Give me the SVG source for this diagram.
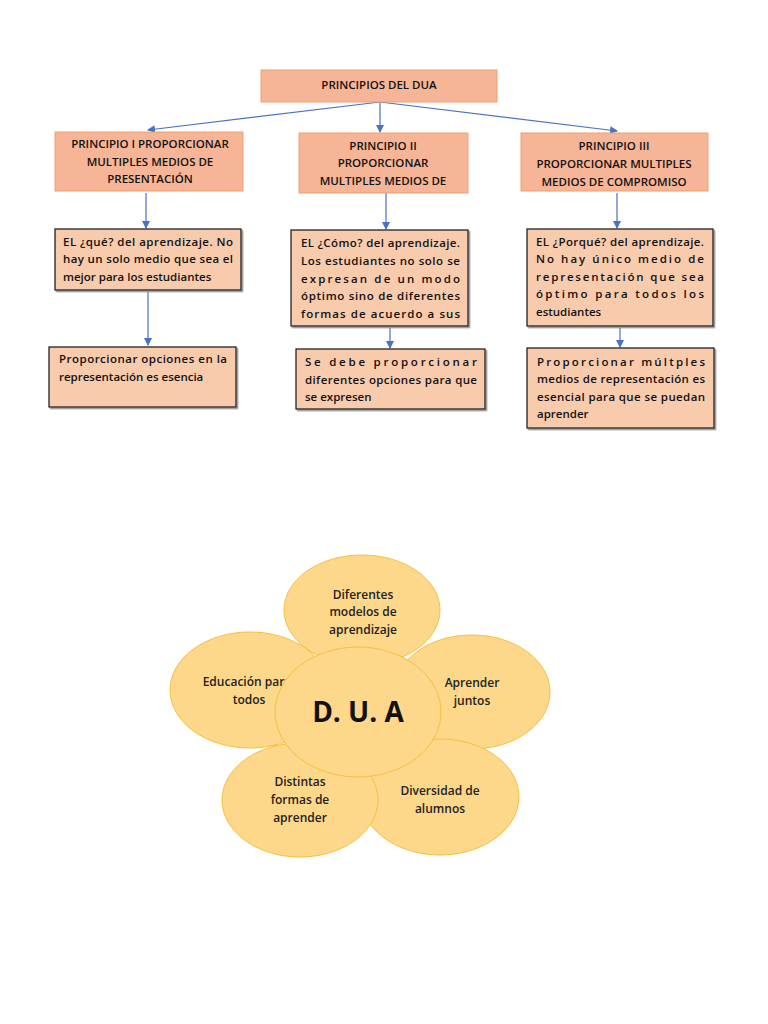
<svg xmlns="http://www.w3.org/2000/svg" width="768" height="1024" viewBox="0 0 768 1024">
<style>
.h{fill:#f7b597;stroke:#f0a070;stroke-width:1}
.b{fill:#f8cbad;stroke:#111;stroke-width:1.2;filter:url(#sh)}
.t{font-family:"Open Sans","Liberation Sans",sans-serif;font-size:11.5px;font-weight:600;fill:#111}
.c{text-anchor:middle}
.e{fill:#fdd88a;stroke:#f5c040;stroke-width:1}
.et{font-family:"Open Sans","Liberation Sans",sans-serif;font-size:12px;font-weight:600;fill:#222;text-anchor:middle}
.l{stroke:#4a72c4;stroke-width:1.2;fill:none;marker-end:url(#a)}
</style>
<defs>
<marker id="a" markerWidth="8" markerHeight="8" refX="7" refY="4" orient="auto" markerUnits="userSpaceOnUse"><path d="M0,0L8,4L0,8z" fill="#4a72c4"/></marker>
<filter id="sh"><feDropShadow dx="1.5" dy="1.5" stdDeviation="0.6" flood-color="#888"/></filter>
</defs>
<rect width="768" height="1024" fill="#fff"/>
<g id="connectors">
<path class="l" d="M380,102L148,130"/>
<path class="l" d="M380,102L380,132"/>
<path class="l" d="M380,102L617,131"/>
<path class="l" d="M146,193L146,228"/>
<path class="l" d="M386,193L386,229"/>
<path class="l" d="M617,193L617,228"/>
<path class="l" d="M148,292L148,345"/>
<path class="l" d="M390,328L390,348"/>
<path class="l" d="M620,328L620,347"/>
</g>
<g id="title"><rect class="h" x="261" y="70" width="236" height="32"/><text class="t c" x="379" y="89">PRINCIPIOS DEL DUA</text></g>
<g id="p1"><rect class="h" x="55" y="132" width="188" height="59"/><text class="t c" x="150" y="148">PRINCIPIO I PROPORCIONAR</text><text class="t c" x="150" y="166">MULTIPLES MEDIOS DE</text><text class="t c" x="150" y="183">PRESENTACIÓN</text></g>
<g id="p2"><rect class="h" x="299" y="133" width="169" height="60"/><text class="t c" x="383" y="150">PRINCIPIO II</text><text class="t c" x="383" y="167">PROPORCIONAR</text><text class="t c" x="383" y="185">MULTIPLES MEDIOS DE</text></g>
<g id="p3"><rect class="h" x="521" y="133" width="187" height="58"/><text class="t c" x="614" y="150">PRINCIPIO III</text><text class="t c" x="614" y="168">PROPORCIONAR MULTIPLES</text><text class="t c" x="614" y="186">MEDIOS DE COMPROMISO</text></g>
<g id="q1"><rect class="b" x="55" y="229" width="186" height="61"/><text class="t" x="63" y="246" textLength="170" lengthAdjust="spacing">EL ¿qué? del aprendizaje. No</text><text class="t" x="63" y="263" textLength="170" lengthAdjust="spacing">hay un solo medio que sea el</text><text class="t" x="63" y="281">mejor para los estudiantes</text></g>
<g id="q2"><rect class="b" x="291" y="230" width="177" height="96"/><text class="t" x="301" y="247" textLength="159" lengthAdjust="spacing">EL ¿Cómo? del aprendizaje.</text><text class="t" x="301" y="265" textLength="159" lengthAdjust="spacing">Los estudiantes no solo se</text><text class="t" x="301" y="283" textLength="159" lengthAdjust="spacing">expresan de un modo</text><text class="t" x="301" y="300" textLength="159" lengthAdjust="spacing">óptimo sino de diferentes</text><text class="t" x="301" y="318" textLength="159" lengthAdjust="spacing">formas de acuerdo a sus</text></g>
<g id="q3"><rect class="b" x="527" y="229" width="186" height="97"/><text class="t" x="536" y="246" textLength="168" lengthAdjust="spacing">EL ¿Porqué? del aprendizaje.</text><text class="t" x="536" y="263" textLength="168" lengthAdjust="spacing">No hay único medio de</text><text class="t" x="536" y="281" textLength="168" lengthAdjust="spacing">representación que sea</text><text class="t" x="536" y="298" textLength="168" lengthAdjust="spacing">óptimo para todos los</text><text class="t" x="536" y="316">estudiantes</text></g>
<g id="r1"><rect class="b" x="49" y="347" width="187" height="60"/><text class="t" x="59" y="363" textLength="168" lengthAdjust="spacing">Proporcionar opciones en la</text><text class="t" x="59" y="381">representación es esencia</text></g>
<g id="r2"><rect class="b" x="296" y="349" width="189" height="60"/><text class="t" x="305" y="366" textLength="172" lengthAdjust="spacing">Se debe proporcionar</text><text class="t" x="305" y="384" textLength="172" lengthAdjust="spacing">diferentes opciones para que</text><text class="t" x="305" y="401">se expresen</text></g>
<g id="r3"><rect class="b" x="527" y="348" width="187" height="80"/><text class="t" x="537" y="366" textLength="168" lengthAdjust="spacing">Proporcionar múltples</text><text class="t" x="537" y="383" textLength="168" lengthAdjust="spacing">medios de representación es</text><text class="t" x="537" y="401" textLength="168" lengthAdjust="spacing">esencial para que se puedan</text><text class="t" x="537" y="418">aprender</text></g>
<g id="top"><ellipse class="e" cx="362" cy="610" rx="78" ry="55"/><text class="et" x="363" y="599">Diferentes</text><text class="et" x="363" y="616">modelos de</text><text class="et" x="363" y="634">aprendizaje</text></g>
<g id="right"><ellipse class="e" cx="472" cy="692" rx="78" ry="57"/><text class="et" x="472" y="687">Aprender</text><text class="et" x="472" y="705">juntos</text></g>
<g id="bright"><ellipse class="e" cx="440" cy="797" rx="79" ry="58"/><text class="et" x="440" y="795">Diversidad de</text><text class="et" x="440" y="813">alumnos</text></g>
<g id="bleft"><ellipse class="e" cx="300" cy="800" rx="78" ry="57"/><text class="et" x="300" y="786">Distintas</text><text class="et" x="300" y="804">formas de</text><text class="et" x="300" y="822">aprender</text></g>
<g id="left"><ellipse class="e" cx="250" cy="690" rx="80" ry="58"/><text class="et" x="247" y="686">Educación para</text><text class="et" x="249" y="704">todos</text></g>
<g id="center"><ellipse class="e" cx="358" cy="712" rx="83" ry="65"/><text x="358" y="722" text-anchor="middle" font-family="Open Sans,Liberation Sans,sans-serif" font-size="28" font-weight="bold" fill="#111">D. U. A</text></g>
</svg>
